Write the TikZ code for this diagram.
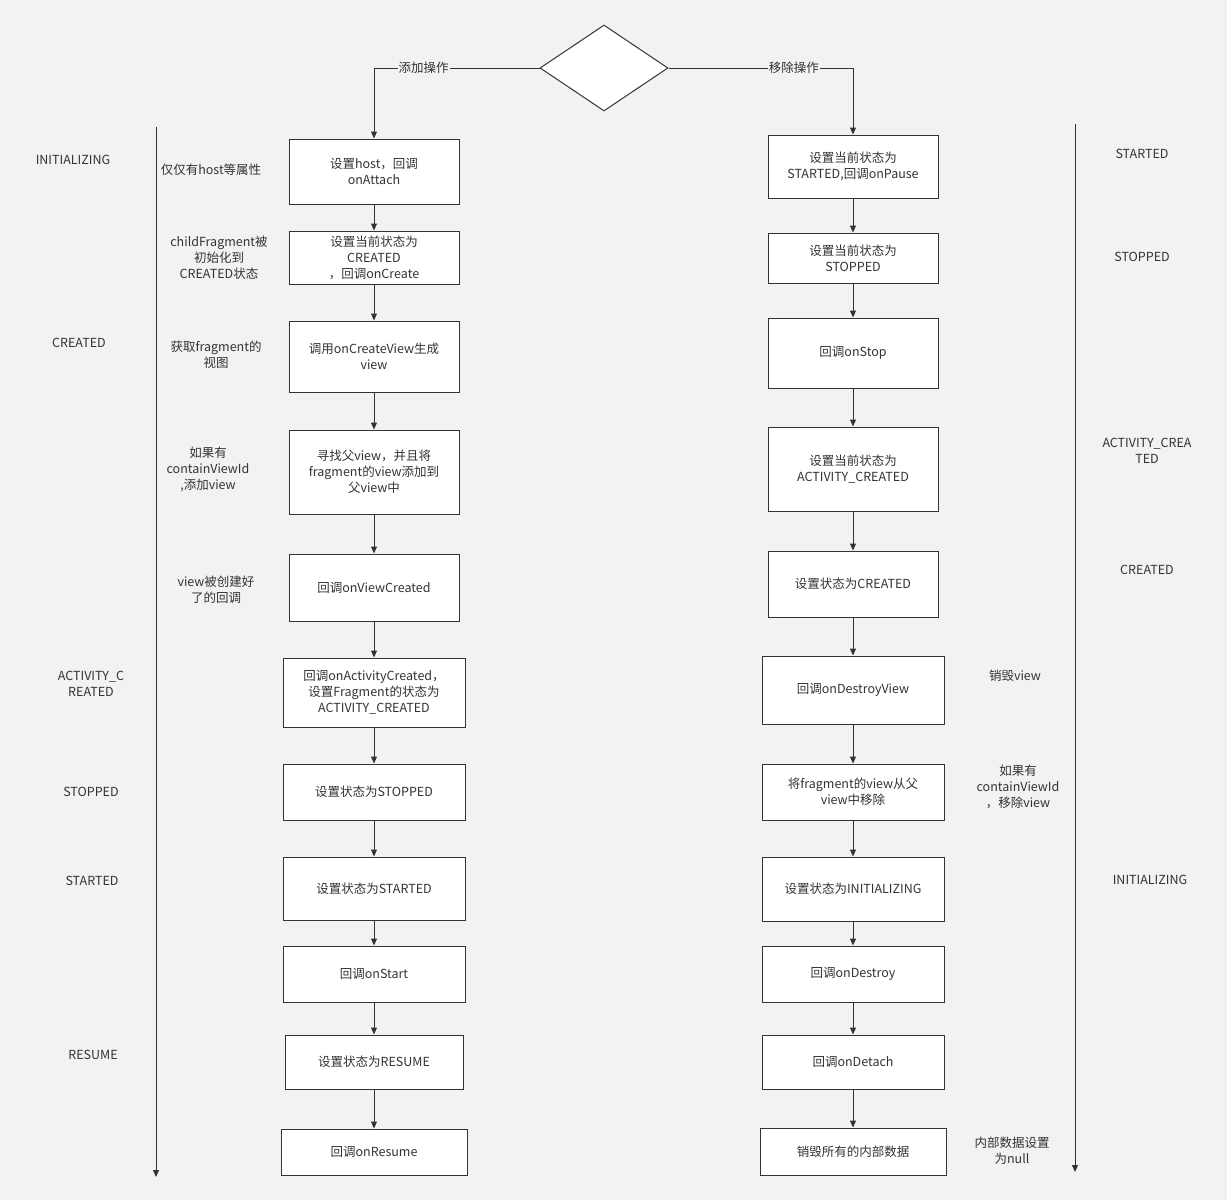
\documentclass[tikz,border=0pt]{standalone}
\usepackage{fontspec}
\setmainfont{Noto Sans CJK SC}
\usetikzlibrary{shapes.geometric,arrows.meta}
\definecolor{bg}{HTML}{F2F2F2}
\definecolor{ln}{HTML}{333333}
\begin{document}
\begin{tikzpicture}[x=1pt,y=-1pt,
  every node/.style={font=\fontsize{12.5}{16}\selectfont,align=center,text=ln},
  box/.style={draw=ln,line width=1pt,fill=white,inner sep=0pt},
  arr/.style={draw=ln,line width=1pt,-{Triangle[length=7pt,width=6pt]}},
  lbl/.style={inner sep=1pt}]
\fill[bg] (0,0) rectangle (1227,1200);
\useasboundingbox (0,0) rectangle (1227,1200);
\node[diamond,draw=ln,line width=1pt,fill=white,minimum width=128,minimum height=86,inner sep=0pt] (d) at (604,68) {};
\newcommand\bx[6]{\node[box,minimum width=#3-#2,minimum height=#5-#4] (#1) at ({(#2+#3)/2},{(#4+#5)/2}) {#6};}
\bx{l1}{289}{459}{139}{204}{设置host，回调\\onAttach}
\bx{l2}{289}{459}{231}{284}{设置当前状态为\\CREATED\\，回调onCreate}
\bx{l3}{289}{459}{321}{392}{调用onCreateView生成\\view}
\bx{l4}{289}{459}{430}{514}{寻找父view，并且将\\fragment的view添加到\\父view中}
\bx{l5}{289}{459}{554}{621}{回调onViewCreated}
\bx{l6}{283}{465}{658}{727}{回调onActivityCreated，\\设置Fragment的状态为\\ACTIVITY\_CREATED}
\bx{l7}{283}{465}{764}{820}{设置状态为STOPPED}
\bx{l8}{283}{465}{857}{920}{设置状态为STARTED}
\bx{l9}{283}{465}{946}{1002}{回调onStart}
\bx{l10}{285}{463}{1035}{1089}{设置状态为RESUME}
\bx{l11}{281}{467}{1129}{1175}{回调onResume}
\bx{r1}{768}{938}{135}{198}{设置当前状态为\\STARTED,回调onPause}
\bx{r2}{768}{938}{233}{283}{设置当前状态为\\STOPPED}
\bx{r3}{768}{938}{318}{388}{回调onStop}
\bx{r4}{768}{938}{427}{511}{设置当前状态为\\ACTIVITY\_CREATED}
\bx{r5}{768}{938}{551}{617}{设置状态为CREATED}
\bx{r6}{762}{944}{656}{724}{回调onDestroyView}
\bx{r7}{762}{944}{764}{820}{将fragment的view从父\\view中移除}
\bx{r8}{762}{944}{857}{921}{设置状态为INITIALIZING}
\bx{r9}{762}{944}{946}{1002}{回调onDestroy}
\bx{r10}{762}{944}{1035}{1089}{回调onDetach}
\bx{r11}{760}{946}{1128}{1175}{销毁所有的内部数据}
\foreach \a/\b in {1/2,2/3,3/4,4/5,5/6,6/7,7/8,8/9,9/10,10/11}{
  \draw[arr] (l\a) -- (l\b);
  \draw[arr] (r\a) -- (r\b);}
\draw[arr] (d.west) -| node[pos=0.35,fill=bg,lbl]{添加操作} (l1.north);
\draw[arr] (d.east) -| node[pos=0.34,fill=bg,lbl]{移除操作} (r1.north);
\coordinate (la) at (156,127); \coordinate (lb) at (156,1177);
\coordinate (ra) at (1075,124); \coordinate (rb) at (1075,1172);
\draw[arr] (la) -- (lb);
\draw[arr] (ra) -- (rb);
\node (t1) at (73,160) {INITIALIZING};
\node (t2) at (211,170) {仅仅有host等属性};
\node (t3) at (219,258) {childFragment被\\初始化到\\CREATED状态};
\node (t4) at (79,343) {CREATED};
\node (t5) at (216,355) {获取fragment的\\视图};
\node (t6) at (208,469) {如果有\\containViewId\\,添加view};
\node (t7) at (216,590) {view被创建好\\了的回调};
\node (t8) at (91,684) {ACTIVITY\_C\\REATED};
\node (t9) at (91,792) {STOPPED};
\node (t10) at (92,881) {STARTED};
\node (t11) at (93,1055) {RESUME};
\node (u1) at (1142,154) {STARTED};
\node (u2) at (1142,257) {STOPPED};
\node (u3) at (1147,451) {ACTIVITY\_CREA\\TED};
\node (u4) at (1147,570) {CREATED};
\node (u5) at (1015,676) {销毁view};
\node (u6) at (1018,787) {如果有\\containViewId\\，移除view};
\node (u7) at (1150,880) {INITIALIZING};
\node (u8) at (1012,1151) {内部数据设置\\为null};
\end{tikzpicture}
\end{document}
